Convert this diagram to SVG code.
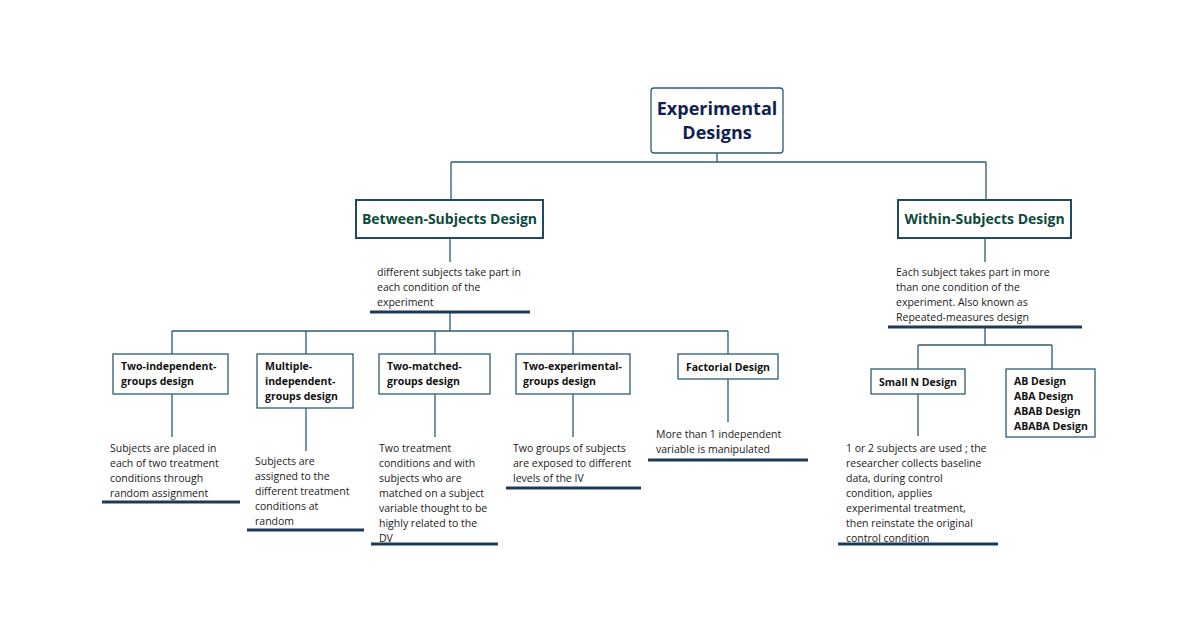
<svg xmlns="http://www.w3.org/2000/svg" width="1200" height="633" viewBox="0 0 1200 633">
<style>
.box{fill:#fff;stroke:#2f5b75;stroke-width:1.3}
.main{fill:#fff;stroke:#1f4a63;stroke-width:2}
.ln{fill:none;stroke:#2f5b75;stroke-width:1.3}
.ul{fill:none;stroke:#1c3a57;stroke-width:3}
.t{font-family:"Open Sans","Noto Sans",sans-serif;font-size:10.5px;fill:#1a1a1a}
.b{font-family:"Open Sans","Noto Sans",sans-serif;font-size:10.5px;font-weight:bold;fill:#111}
.h{font-family:"Open Sans","Noto Sans",sans-serif;font-size:14px;font-weight:bold;fill:#0e4a3c}
.r{font-family:"Open Sans","Noto Sans",sans-serif;font-size:18px;font-weight:bold;fill:#0f2150}
</style>
<rect width="1200" height="633" fill="#fff"/>
<g id="connectors">
<path class="ln" d="M717 153V162M451 162H986M451 162V200M986 162V200"/>
<path class="ln" d="M450 238V262M450 312V331M172 331H728M172 331V354M306 331V354M435 331V354M573 331V354M728 331V354"/>
<path class="ln" d="M172 394V437M306 408V451M435 394V437M573 394V437M728 379V422"/>
<path class="ln" d="M985 238V262M985 328V345M918 345H1052M918 345V369M1052 345V369M918 394V436"/>
<path class="ul" d="M370 312H530M102 502H240M247 530H364M371 544H498M506 488H641M648 460H808M888 327H1082M838 544H998"/>
</g>
<g id="root">
<rect x="651" y="88" width="132" height="65" rx="3" class="box"/>
<text class="r" x="717" y="115" text-anchor="middle">Experimental</text>
<text class="r" x="717" y="139" text-anchor="middle">Designs</text>
</g>
<g id="between">
<rect x="356" y="200" width="187" height="38" class="main"/>
<text class="h" x="449.5" y="224" text-anchor="middle">Between-Subjects Design</text>
<text class="t" x="377" y="276">different subjects take part in</text>
<text class="t" x="377" y="291">each condition of the</text>
<text class="t" x="377" y="306">experiment</text>
</g>
<g id="within">
<rect x="898" y="200" width="173" height="38" class="main"/>
<text class="h" x="984.5" y="224" text-anchor="middle">Within-Subjects Design</text>
<text class="t" x="896" y="276">Each subject takes part in more</text>
<text class="t" x="896" y="291">than one condition of the</text>
<text class="t" x="896" y="306">experiment. Also known as</text>
<text class="t" x="896" y="321">Repeated-measures design</text>
</g>
<g id="two-independent">
<rect x="113" y="354" width="115" height="40" class="box"/>
<text class="b" x="121" y="370">Two-independent-</text>
<text class="b" x="121" y="385">groups design</text>
<text class="t" x="110" y="452">Subjects are placed in</text>
<text class="t" x="110" y="467">each of two treatment</text>
<text class="t" x="110" y="482">conditions through</text>
<text class="t" x="110" y="497">random assignment</text>
</g>
<g id="multiple-independent">
<rect x="257" y="354" width="96" height="54" class="box"/>
<text class="b" x="265" y="370">Multiple-</text>
<text class="b" x="265" y="385">independent-</text>
<text class="b" x="265" y="400">groups design</text>
<text class="t" x="255" y="465">Subjects are</text>
<text class="t" x="255" y="480">assigned to the</text>
<text class="t" x="255" y="495">different treatment</text>
<text class="t" x="255" y="510">conditions at</text>
<text class="t" x="255" y="525">random</text>
</g>
<g id="two-matched">
<rect x="379" y="354" width="111" height="40" class="box"/>
<text class="b" x="387" y="370">Two-matched-</text>
<text class="b" x="387" y="385">groups design</text>
<text class="t" x="379" y="452">Two treatment</text>
<text class="t" x="379" y="467">conditions and with</text>
<text class="t" x="379" y="482">subjects who are</text>
<text class="t" x="379" y="497">matched on a subject</text>
<text class="t" x="379" y="512">variable thought to be</text>
<text class="t" x="379" y="527">highly related to the</text>
<text class="t" x="379" y="542">DV</text>
</g>
<g id="two-experimental">
<rect x="516" y="354" width="114" height="40" class="box"/>
<text class="b" x="523" y="370">Two-experimental-</text>
<text class="b" x="523" y="385">groups design</text>
<text class="t" x="513" y="452">Two groups of subjects</text>
<text class="t" x="513" y="467">are exposed to different</text>
<text class="t" x="513" y="482">levels of the IV</text>
</g>
<g id="factorial">
<rect x="678" y="354" width="100" height="25" class="box"/>
<text class="b" x="728" y="371" text-anchor="middle">Factorial Design</text>
<text class="t" x="656" y="438">More than 1 independent</text>
<text class="t" x="656" y="453">variable is manipulated</text>
</g>
<g id="small-n">
<rect x="871" y="369" width="94" height="25" class="box"/>
<text class="b" x="918" y="386" text-anchor="middle">Small N Design</text>
<text class="t" x="846" y="452">1 or 2 subjects are used ; the</text>
<text class="t" x="846" y="467">researcher collects baseline</text>
<text class="t" x="846" y="482">data, during control</text>
<text class="t" x="846" y="497">condition, applies</text>
<text class="t" x="846" y="512">experimental treatment,</text>
<text class="t" x="846" y="527">then reinstate the original</text>
<text class="t" x="846" y="542">control condition</text>
</g>
<g id="ab-designs">
<rect x="1006" y="369" width="89" height="68" class="box"/>
<text class="b" x="1014" y="385">AB Design</text>
<text class="b" x="1014" y="400">ABA Design</text>
<text class="b" x="1014" y="415">ABAB Design</text>
<text class="b" x="1014" y="430">ABABA Design</text>
</g>
</svg>
